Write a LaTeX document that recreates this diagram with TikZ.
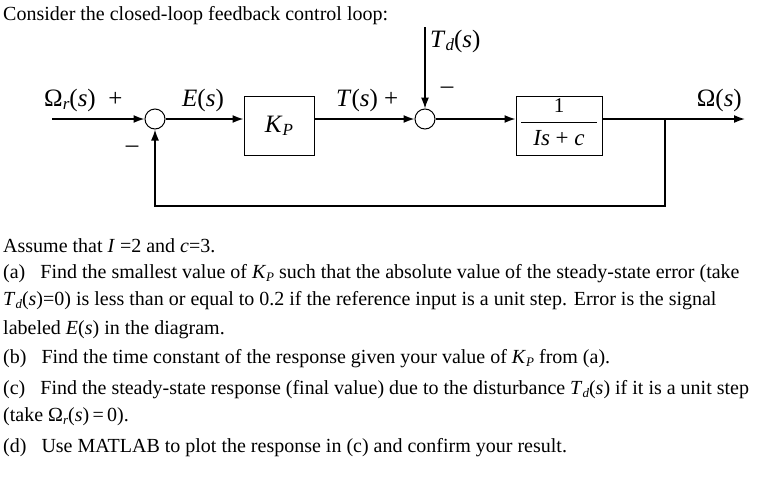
\documentclass[tikz,border=0pt]{standalone}
\usepackage{fontspec}
\setmainfont{Liberation Serif}
\usetikzlibrary{arrows.meta}
\newcommand{\vi}[1]{\textit{#1}}
\begin{document}
\begin{tikzpicture}[x=1pt,y=-1pt,
  txt/.style={anchor=base west,inner sep=0,font=\fontsize{20}{22}\selectfont},
  lab/.style={inner sep=0,font=\fontsize{25}{28}\selectfont},
  blk/.style={draw,line width=1pt,minimum width=70pt,minimum height=59pt,inner sep=0},
  sumc/.style={draw,circle,line width=1pt,minimum size=20pt,inner sep=0},
  sig/.style={line width=1.6pt,-{Latex[length=11pt,width=8pt]}}]
\useasboundingbox (0,0) rectangle (781,485);
\node[txt] (t0) at (3,20) {Consider the closed-loop feedback control loop:};
\coordinate (in) at (52,119);
\node[sumc] (s1) at (155,119) {};
\node[blk] (kp) at (279,125.5) {\fontsize{25}{28}\selectfont \vi{K}\raisebox{-0.25ex}{\fontsize{17}{20}\selectfont\vi{P}}};
\node[sumc] (s2) at (425,119) {};
\node[blk,minimum width=86pt] (g) at (559,125.5) {};
\node[lab] (gn) at (559,106) {\fontsize{21}{22}\selectfont 1};
\node[lab] (gd) at (559,138) {\fontsize{23}{24}\selectfont \vi{Is} + \vi{c}};
\draw[line width=0.8pt] (521,122) -- (597,122);
\coordinate (td) at (425,27);
\coordinate (br) at (665,119);
\coordinate (out) at (745,119);
\coordinate (fb) at (665,206);
\coordinate (fb2) at (155,206);
\draw[sig] (in) -- (s1);
\draw[sig] (s1) -- (kp.west|-s1);
\draw[sig] (kp.east|-s1) -- (s2);
\draw[sig] (s2) -- (g.west|-s2);
\draw[sig] (g.east|-s2) -- (out);
\draw[sig,line width=1.2pt] (td) -- (s2);
\draw[sig] (br) -- (fb) -- (fb2) -- (s1);
\node[lab,anchor=south west] (l1) at (44,112) {Ω\raisebox{-0.3ex}{\fontsize{17}{20}\selectfont\vi{r}}(\vi{s})\ \ +};
\node[lab,anchor=south] (l2) at (203,112) {\vi{E}(\vi{s})};
\node[lab,anchor=south west] (l3) at (336,112) {\vi{T}(\vi{s}) +};
\node[lab,anchor=west] (l4) at (430,41) {\vi{T}\raisebox{-0.3ex}{\fontsize{17}{20}\selectfont\vi{d}}(\vi{s})};
\node[lab] (l5) at (447,90) {–};
\node[lab] (l6) at (132,149) {–};
\node[lab,anchor=south east] (l7) at (742,112) {Ω(\vi{s})};
\node[txt] (a0) at (3,252) {Assume that \vi{I} =2 and \vi{c}=3.};
\node[txt] (a1) at (3,278) {(a)\ \ \ Find the smallest value of \vi{K}\raisebox{-0.4ex}{\fontsize{13}{14}\selectfont\vi{P}} such that the absolute value of the steady-state error (take};
\node[txt] (a2) at (3,305) {\vi{T}\raisebox{-0.4ex}{\fontsize{13}{14}\selectfont\vi{d}}(\vi{s})=0) is less than or equal to 0.2 if the reference input is a unit step. Error is the signal};
\node[txt] (a3) at (3,334) {labeled \vi{E}(\vi{s}) in the diagram.};
\node[txt] (b1) at (3,363) {(b)\ \ \ Find the time constant of the response given your value of \vi{K}\raisebox{-0.4ex}{\fontsize{13}{14}\selectfont\vi{P}} from (a).};
\node[txt] (c1) at (3,394) {(c)\ \ \ Find the steady-state response (final value) due to the disturbance \vi{T}\raisebox{-0.4ex}{\fontsize{13}{14}\selectfont\vi{d}}(\vi{s}) if it is a unit step};
\node[txt] (c2) at (3,421) {(take Ω\raisebox{-0.4ex}{\fontsize{13}{14}\selectfont\vi{r}}(\vi{s})\,=\,0).};
\node[txt] (d1) at (3,452) {(d)\ \ \ Use MATLAB to plot the response in (c) and confirm your result.};
\end{tikzpicture}
\end{document}
